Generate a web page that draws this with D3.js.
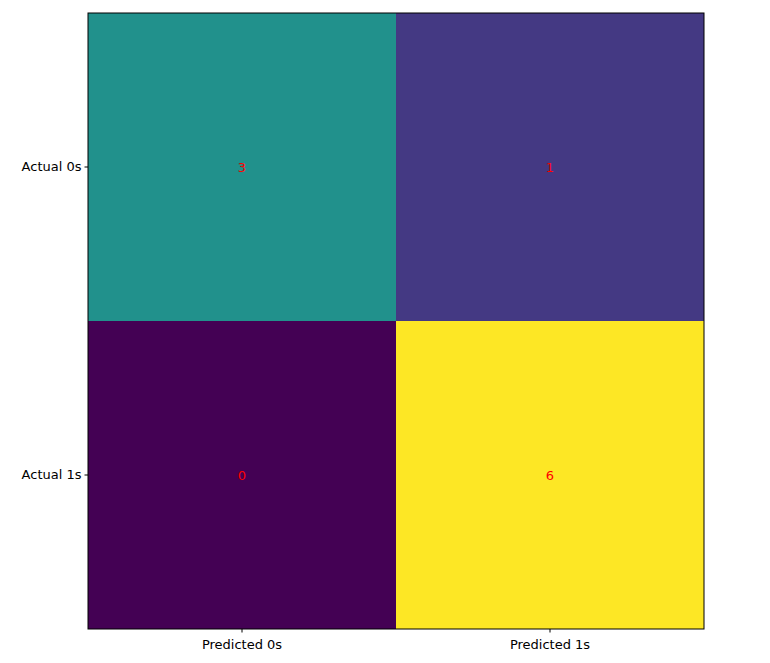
<!DOCTYPE html>
<html><head><meta charset="utf-8">
<script src="https://cdn.jsdelivr.net/npm/d3@7"></script>
<style>body{margin:0;background:#fff}</style></head>
<body><svg id="c" width="770" height="663"></svg>
<script>
const xLabels = ["Predicted 0s", "Predicted 1s"];
const yLabels = ["Actual 0s", "Actual 1s"];
const values = [[3, 1], [0, 6]];

const svg = d3.select("#c");
const L = 88, R = 704, T = 13, B = 629;
const x = d3.scaleBand().domain([0,1]).range([L, R]);
const y = d3.scaleBand().domain([0,1]).range([T, B]);
const color = d3.scaleSequential(d3.interpolateViridis).domain([0, 6]);
const cells = [];
values.forEach((row, i) => row.forEach((v, j) => cells.push({i, j, v})));
svg.selectAll("rect.cell").data(cells).enter().append("rect")
  .attr("x", d => x(d.j)).attr("y", d => y(d.i))
  .attr("width", x.bandwidth()).attr("height", y.bandwidth())
  .attr("fill", d => color(d.v));
svg.selectAll("text.v").data(cells).enter().append("text")
  .attr("x", d => x(d.j) + x.bandwidth()/2).attr("y", d => y(d.i) + y.bandwidth()/2)
  .attr("text-anchor", "middle").attr("dominant-baseline", "central")
  .attr("fill", "red").attr("font-family", "DejaVu Sans").attr("font-size", 13)
  .text(d => d.v);
svg.append("rect").attr("x", L).attr("y", T).attr("width", R-L).attr("height", B-T)
  .attr("fill", "none").attr("stroke", "#000").attr("stroke-width", 1);
const xa = svg.append("g").attr("transform", `translate(0,${B})`)
  .call(d3.axisBottom(x).tickFormat(d => xLabels[d]).tickSizeInner(3.5).tickSizeOuter(0));
const ya = svg.append("g").attr("transform", `translate(${L},0)`)
  .call(d3.axisLeft(y).tickFormat(d => yLabels[d]).tickSizeInner(3.5).tickSizeOuter(0));
[xa, ya].forEach(a => {
  a.select(".domain").remove();
  a.selectAll("text").attr("font-family", "DejaVu Sans").attr("font-size", 13).attr("fill", "#000");
});
xa.selectAll("text").attr("dy", "1em");
</script></body></html>
